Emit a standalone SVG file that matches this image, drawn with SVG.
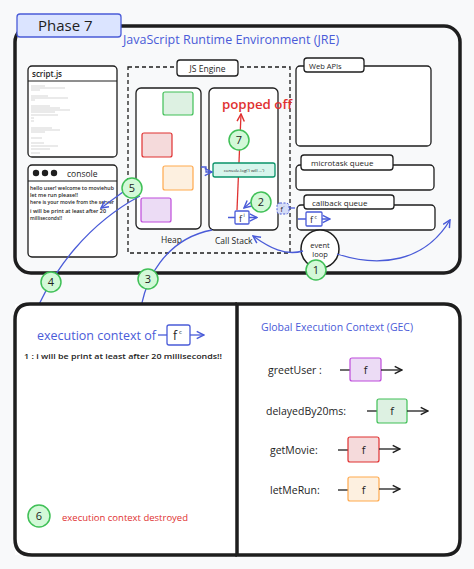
<svg xmlns="http://www.w3.org/2000/svg" width="474" height="569" viewBox="0 0 474 569">
<defs>
<style>
text{font-family:"Open Sans","Liberation Sans",sans-serif;}
.frame{fill:none;stroke:#1e1e1e;stroke-width:3.5;}
.box{fill:#fff;stroke:#1e1e1e;stroke-width:1.3;}
.lbl{fill:#fff;stroke:#1e1e1e;stroke-width:1.3;}
.t{fill:#1e1e1e;}
.blue{fill:#4a5bd8;}
.red{fill:#e03131;}
.step{fill:#d3f9d8;stroke:#40c057;stroke-width:1.5;}
.num{font-size:11px;fill:#1e1e1e;text-anchor:middle;}
.bl{fill:none;stroke:#4a5bd8;stroke-width:1.3;}
.bk{fill:none;stroke:#1e1e1e;stroke-width:1.3;}
.code{stroke:#bbb;stroke-width:0.6;}
</style>
<marker id="ab" viewBox="0 0 10 10" refX="9" refY="5" markerWidth="7" markerHeight="7" orient="auto-start-reverse"><path d="M1,1 L9,5 L1,9" fill="none" stroke="#4a5bd8" stroke-width="1.6"/></marker>
<marker id="ak" viewBox="0 0 10 10" refX="9" refY="5" markerWidth="7" markerHeight="7" orient="auto"><path d="M1,1 L9,5 L1,9" fill="none" stroke="#1e1e1e" stroke-width="1.6"/></marker>
<marker id="ar" viewBox="0 0 10 10" refX="9" refY="5" markerWidth="7" markerHeight="7" orient="auto"><path d="M1,1 L9,5 L1,9" fill="none" stroke="#e03131" stroke-width="1.6"/></marker>
</defs>
<rect width="474" height="569" fill="#f8f9fa"/>

<g id="jre">
<rect x="15" y="26" width="445" height="247" rx="16" fill="#fff" class="frame"/>
<text x="123" y="44" font-size="12.5" class="blue">JavaScript Runtime Environment (JRE)</text>
</g>
<g id="phase">
<rect x="17" y="14" width="104" height="23" rx="3" fill="#dbe4ff" stroke="#4a5bd8" stroke-width="1.3"/>
<text x="38" y="31" font-size="15" class="t">Phase 7</text>
</g>

<g id="script">
<rect x="28" y="66" width="89" height="91" rx="4" class="box"/>
<line x1="28" y1="81" x2="117" y2="81" stroke="#1e1e1e" stroke-width="1"/>
<text x="32" y="77" font-size="8" font-weight="600" class="t">script.js</text>
<g class="code">
<line x1="31" y1="86" x2="45" y2="86"/><line x1="31" y1="88" x2="65" y2="88"/><line x1="31" y1="90" x2="40" y2="90"/>
<line x1="31" y1="96" x2="48" y2="96"/><line x1="31" y1="98" x2="68" y2="98"/><line x1="31" y1="100" x2="35" y2="100"/>
<line x1="31" y1="106" x2="50" y2="106"/><line x1="31" y1="108" x2="60" y2="108"/><line x1="31" y1="110" x2="70" y2="110"/><line x1="31" y1="112" x2="55" y2="112"/><line x1="31" y1="115" x2="58" y2="115"/><line x1="31" y1="118" x2="34" y2="118"/><line x1="31" y1="121" x2="34" y2="121"/>
<line x1="31" y1="128" x2="52" y2="128"/><line x1="31" y1="130" x2="60" y2="130"/><line x1="31" y1="132" x2="45" y2="132"/>
<line x1="31" y1="138" x2="42" y2="138"/><line x1="31" y1="143" x2="44" y2="143"/><line x1="31" y1="146" x2="58" y2="146"/><line x1="31" y1="149" x2="50" y2="149"/><line x1="31" y1="153" x2="40" y2="153"/>
</g>
</g>

<g id="console">
<rect x="28" y="165" width="89" height="92" rx="4" class="box"/>
<line x1="28" y1="181" x2="117" y2="181" stroke="#1e1e1e" stroke-width="1"/>
<circle cx="36" cy="173" r="3.2" fill="#1e1e1e"/><circle cx="45" cy="173" r="3.2" fill="#1e1e1e"/><circle cx="54" cy="173" r="3.2" fill="#1e1e1e"/>
<text x="67" y="177" font-size="8.5" class="t">console</text>
<g font-size="4.8" font-weight="600" class="t">
<text x="30" y="190" textLength="84" lengthAdjust="spacingAndGlyphs">hello user! welcome to moviehub</text>
<text x="30" y="197" textLength="48" lengthAdjust="spacingAndGlyphs">let me run please!!</text>
<text x="30" y="204" textLength="84" lengthAdjust="spacingAndGlyphs">here is your movie from the server</text>
<text x="30" y="213" textLength="76" lengthAdjust="spacingAndGlyphs">i will be print at least after 20</text>
<text x="30" y="220" textLength="32" lengthAdjust="spacingAndGlyphs">milliseconds!!</text>
</g>
</g>

<g id="jsengine">
<rect x="128" y="67" width="162" height="186" fill="none" stroke="#1e1e1e" stroke-width="1.3" stroke-dasharray="4 3"/>
<rect x="177" y="60" width="61" height="16" rx="3" class="lbl"/>
<text x="207.5" y="72" font-size="8.5" class="t" text-anchor="middle">JS Engine</text>
</g>

<g id="heap">
<rect x="136" y="88" width="65" height="141" rx="5" class="box"/>
<rect x="163" y="92" width="30" height="23" rx="2" fill="#ddf1e2" stroke="#40c057" stroke-width="1.2"/>
<rect x="142" y="133" width="30" height="24" rx="2" fill="#f5dadb" stroke="#e03131" stroke-width="1.2"/>
<rect x="163" y="166" width="30" height="24" rx="2" fill="#fdf0e0" stroke="#ffa94d" stroke-width="1.2"/>
<rect x="141" y="198" width="30" height="24" rx="2" fill="#ecdcf5" stroke="#be4bdb" stroke-width="1.2"/>
<text x="161" y="243" font-size="8.5" class="t">Heap</text>
</g>

<g id="callstack">
<rect x="209" y="88" width="69" height="142" rx="5" class="box"/>
<text x="215" y="244" font-size="8.5" class="t">Call Stack</text>
<text x="222" y="109" font-size="12.5" font-weight="600" class="red" textLength="70" lengthAdjust="spacingAndGlyphs">popped off</text>
<line x1="237" y1="210" x2="241" y2="114" stroke="#e03131" stroke-width="1.3" marker-end="url(#ar)"/>
<rect x="213" y="163" width="62" height="14" rx="2" fill="#d7f5ec" stroke="#099268" stroke-width="1.3"/>
<text x="244" y="172" font-size="4.3" class="t" text-anchor="middle">console.log('I will ...')</text>
<rect x="235" y="211" width="14" height="13" rx="1" fill="#fff" stroke="#4a5bd8" stroke-width="1.3"/>
<text x="239" y="221.5" font-size="9" class="t">f</text>
<text x="243.5" y="217" font-size="5" class="t">i</text>
</g>

<g id="webapis">
<rect x="296" y="66" width="135" height="80" rx="4" class="box"/>
<rect x="304" y="58" width="60" height="14" rx="3" class="lbl"/>
<text x="309" y="69" font-size="7.5" class="t">Web APIs</text>
</g>
<g id="microtask">
<rect x="296" y="165" width="138" height="25" rx="4" class="box"/>
<rect x="301" y="155" width="92" height="15" rx="3" class="lbl"/>
<text x="311" y="166" font-size="8" class="t">microtask queue</text>
</g>
<g id="callback">
<rect x="297" y="205" width="138" height="25" rx="4" class="box"/>
<rect x="304" y="195" width="90" height="14" rx="3" class="lbl"/>
<text x="312" y="206" font-size="8" class="t">callback queue</text>
<rect x="306" y="212" width="16" height="14" rx="1" fill="#fff" stroke="#4a5bd8" stroke-width="1.3"/>
<text x="310" y="223" font-size="9" class="t">f</text>
<text x="314.5" y="218.5" font-size="5" class="t">c</text>
</g>
<g id="fdash">
<rect x="277" y="203" width="12" height="11" rx="3" fill="#d5dcf7" stroke="#4a5bd8" stroke-width="1" stroke-dasharray="2 1.5"/>
<text x="280.5" y="212" font-size="7" class="t">f</text>
<text x="283.5" y="208.5" font-size="4" class="t">'</text>
</g>

<g id="eventloop">
<circle cx="320" cy="249" r="19" fill="#fff" stroke="#1e1e1e" stroke-width="1.5"/>
<text x="320" y="248" font-size="7.5" class="t" text-anchor="middle">event</text>
<text x="320" y="257" font-size="7.5" class="t" text-anchor="middle">loop</text>
</g>

<g id="connectors">
<path d="M303,251 C285,256 270,248 253,236" class="bl" marker-end="url(#ab)"/>
<path d="M337,254 C380,268 425,262 450,220" class="bl" marker-end="url(#ab)"/>
<path d="M251,202 L244,208" class="bl" marker-end="url(#ab)"/>
<path d="M228,217.5 L235,217.5 M249,217.5 L257,217.5" class="bl" marker-end="url(#ab)"/>
<path d="M298,219 L306,219 M322,219 L330,219" class="bl" marker-end="url(#ab)"/>
<path d="M201,167 L206,167 L206,172 L212,172" class="bl" marker-end="url(#ab)"/>
<path d="M289,208 L295,208" class="bl"/>
<path d="M123,192 L101,208" class="bl" marker-end="url(#ab)"/>
<path d="M140,196 C95,220 50,265 27,335" class="bl"/>
<path d="M212,230 C170,238 140,275 139,330" class="bl" marker-end="url(#ab)"/>
</g>

<g id="step1"><circle cx="316" cy="270" r="10" class="step"/><text x="316" y="274" class="num">1</text></g>
<g id="step2"><circle cx="261" cy="202" r="10" class="step"/><text x="261" y="206" class="num">2</text></g>
<g id="step3"><circle cx="148" cy="279" r="10" class="step"/><text x="148" y="283" class="num">3</text></g>
<g id="step4"><circle cx="51" cy="282" r="10" class="step"/><text x="51" y="286" class="num">4</text></g>
<g id="step5"><circle cx="132" cy="188" r="10" class="step"/><text x="132" y="192" class="num">5</text></g>
<g id="step7"><circle cx="239" cy="140" r="10" class="step"/><text x="239" y="144" class="num">7</text></g>

<g id="execctx">
<rect x="15" y="304" width="222" height="251" fill="#fff" stroke="none"/>
<path d="M237,304 L30,304 Q15,304 15,320 L15,539 Q15,555 32,555 L237,555" class="frame"/>
<text x="37" y="340" font-size="12.5" class="blue">execution context of</text>
<line x1="158" y1="335" x2="167" y2="335" stroke="#4a5bd8" stroke-width="1.3"/>
<rect x="167" y="325" width="23" height="20" rx="2" fill="#fff" stroke="#4a5bd8" stroke-width="1.3"/>
<text x="173" y="340" font-size="12" class="t">f</text>
<text x="179" y="334" font-size="6" class="t">c</text>
<line x1="190" y1="335" x2="204" y2="335" class="bl" marker-end="url(#ab)"/>
<text x="24" y="359" font-size="6.5" font-weight="600" class="t" textLength="198" lengthAdjust="spacingAndGlyphs">1 : i will be print at least after 20 milliseconds!!</text>
<circle cx="39" cy="516" r="11" class="step"/><text x="39" y="520" class="num">6</text>
<text x="62" y="521" font-size="9.5" class="red">execution context destroyed</text>
</g>

<g id="gec">
<rect x="237" y="304" width="223" height="251" fill="#fff" stroke="none"/>
<path d="M237,304 L444,304 Q460,304 460,320 L460,539 Q460,555 444,555 L237,555 Z" class="frame"/>
<text x="261" y="331" font-size="10.5" class="blue">Global Execution Context (GEC)</text>
<text x="268" y="374" font-size="10.5" class="t">greetUser :</text>
<line x1="340" y1="370" x2="350" y2="370" class="bk"/>
<rect x="350" y="358" width="31" height="23" rx="2" fill="#ecdcf5" stroke="#be4bdb" stroke-width="1.2"/>
<text x="365.5" y="374" font-size="11" class="t" text-anchor="middle">f</text>
<line x1="381" y1="370" x2="402" y2="370" class="bk" marker-end="url(#ak)"/>

<text x="266" y="415" font-size="10.5" class="t">delayedBy20ms:</text>
<line x1="367" y1="411" x2="377" y2="411" class="bk"/>
<rect x="377" y="399" width="30" height="24" rx="2" fill="#ddf1e2" stroke="#40c057" stroke-width="1.2"/>
<text x="392" y="415" font-size="11" class="t" text-anchor="middle">f</text>
<line x1="407" y1="411" x2="428" y2="411" class="bk" marker-end="url(#ak)"/>

<text x="270" y="454" font-size="10.5" class="t">getMovie:</text>
<line x1="338" y1="450" x2="348" y2="450" class="bk"/>
<rect x="348" y="437" width="31" height="25" rx="2" fill="#f5dadb" stroke="#e03131" stroke-width="1.2"/>
<text x="363.5" y="454" font-size="11" class="t" text-anchor="middle">f</text>
<line x1="379" y1="449" x2="400" y2="449" class="bk" marker-end="url(#ak)"/>

<text x="270" y="494" font-size="10.5" class="t">letMeRun:</text>
<line x1="338" y1="490" x2="348" y2="490" class="bk"/>
<rect x="348" y="477" width="31" height="24" rx="2" fill="#fdf0e0" stroke="#ffa94d" stroke-width="1.2"/>
<text x="363.5" y="494" font-size="11" class="t" text-anchor="middle">f</text>
<line x1="379" y1="489" x2="400" y2="489" class="bk" marker-end="url(#ak)"/>
</g>
</svg>
